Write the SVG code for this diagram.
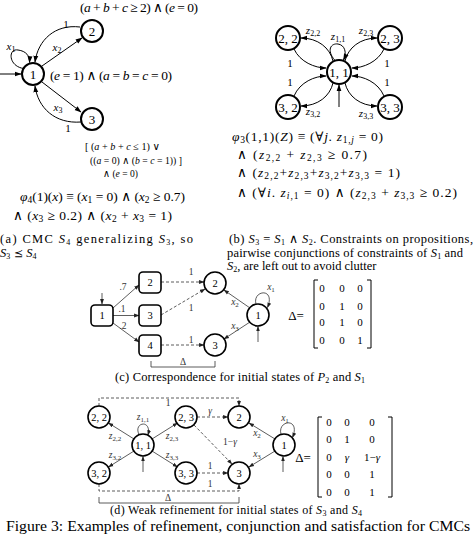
<svg xmlns="http://www.w3.org/2000/svg" width="474" height="534" viewBox="0 0 474 534">
<style>
text{font-family:"Liberation Serif","DejaVu Serif","Times New Roman",serif;fill:#000}
.n{fill:#fff;stroke:#000;stroke-width:2}
.ns{fill:#fff;stroke:#000;stroke-width:1.6}
.e{fill:none;stroke:#000;stroke-width:1}
.es{fill:none;stroke:#333;stroke-width:0.8}
.d{fill:none;stroke:#333;stroke-width:0.8;stroke-dasharray:3 2}
.t{font-size:13.5px}
.tb{font-size:10.5px}
.cap{font-size:12.5px}
.lab{font-size:11px;text-anchor:middle}
.labs{font-size:9.5px;text-anchor:middle;fill:#333}
.nl{font-size:13px;text-anchor:middle}
.nls{font-size:10.5px;text-anchor:middle}
.i{font-style:italic}
.sb{font-size:8px}
.sbm{font-size:9.5px}
.sbs{font-size:7px}
.mx{font-size:11px;text-anchor:middle}
</style>
<defs>
<marker id="a" viewBox="0 0 10 10" refX="9" refY="5" markerWidth="7" markerHeight="7" markerUnits="userSpaceOnUse" orient="auto"><path d="M0,1.5 L10,5 L0,8.5 z" fill="#000"/></marker>
<marker id="b" viewBox="0 0 10 10" refX="9" refY="5" markerWidth="5.5" markerHeight="5.5" markerUnits="userSpaceOnUse" orient="auto"><path d="M0,1.5 L10,5 L0,8.5 z" fill="#222"/></marker>
</defs>

<!-- connectors -->
<g id="connectors">
<!-- (a) -->
<path class="e" d="M0,74 H21" marker-end="url(#a)"/>
<path class="e" d="M23.5,68.5 C8,66 8,48 18,50 C26,51 30,56 29.5,62.5" marker-end="url(#a)"/>
<path class="e" d="M42,66 L82,38" marker-end="url(#a)"/>
<path class="e" d="M80,27 C55,24 38,40 35,62" marker-end="url(#a)"/>
<path class="e" d="M42,82 L81,112" marker-end="url(#a)"/>
<path class="e" d="M81,122 C55,124 38,108 35,86" marker-end="url(#a)"/>
<!-- (b) -->
<path class="e" d="M333,61 C330,48 318,38 301,38" marker-end="url(#a)"/>
<path class="e" d="M294,49 C300,62 315,68 326,68" marker-end="url(#a)"/>
<path class="e" d="M345,61 C348,48 360,38 377,38" marker-end="url(#a)"/>
<path class="e" d="M384,49 C378,62 363,68 352,68" marker-end="url(#a)"/>
<path class="e" d="M333,83 C330,96 318,106 301,106" marker-end="url(#a)"/>
<path class="e" d="M294,96 C300,82 315,76 326,76" marker-end="url(#a)"/>
<path class="e" d="M345,83 C348,96 360,106 377,106" marker-end="url(#a)"/>
<path class="e" d="M384,96 C378,82 363,76 352,76" marker-end="url(#a)"/>
<path class="e" d="M335,60.5 C326,50 331,43 338,44 C345,45 347,53 343.5,60" marker-end="url(#a)"/>
<path class="e" d="M339,107 V85" marker-end="url(#a)"/>
<!-- (c) -->
<path class="es" d="M102,293 V304" marker-end="url(#b)"/>
<path class="es" d="M113,308 L139,285" marker-end="url(#b)"/>
<path class="es" d="M113,315.5 L139,315.5" marker-end="url(#b)"/>
<path class="es" d="M113,323 L139,342" marker-end="url(#b)"/>
<path class="d" d="M161,282 H204" marker-end="url(#b)"/>
<path class="d" d="M161,315 L205,289" marker-end="url(#b)"/>
<path class="d" d="M161,345 H204" marker-end="url(#b)"/>
<path class="es" d="M250,308 L224,290" marker-end="url(#b)"/>
<path class="es" d="M250,322 L224,339" marker-end="url(#b)"/>
<path class="es" d="M256,304.2 C252,290 276,287 267.5,307.5" marker-end="url(#b)"/>
<path class="es" d="M258,342 V326.5" marker-end="url(#b)"/>
<path class="es" d="M151,361 V367 H215 V361"/>
<!-- (d) -->
<path class="es" d="M134,439 L108.5,423" marker-end="url(#b)"/>
<path class="es" d="M152,439 L177.5,423" marker-end="url(#b)"/>
<path class="es" d="M134,451 L108.5,467" marker-end="url(#b)"/>
<path class="es" d="M152,451 L177.5,467" marker-end="url(#b)"/>
<path class="es" d="M139,434.5 C133,422 152,419 148,435" marker-end="url(#b)"/>
<path class="es" d="M143,472 V456.5" marker-end="url(#b)"/>
<path class="d" d="M197,417 H228" marker-end="url(#b)"/>
<path class="d" d="M194,425 L232,464" marker-end="url(#b)"/>
<path class="d" d="M197,473 H228" marker-end="url(#b)"/>
<path class="d" d="M99,406 V398 H239 V406" marker-end="url(#b)"/>
<path class="d" d="M99,484 V491 H239 V484" marker-end="url(#b)"/>
<path class="es" d="M99,497 V503 H239 V497"/>
<path class="es" d="M275,439 L249,423" marker-end="url(#b)"/>
<path class="es" d="M275,451 L249,467" marker-end="url(#b)"/>
<path class="es" d="M281,434.2 C277,420 301,417 292.5,437.5" marker-end="url(#b)"/>
<path class="es" d="M283,472 V456.5" marker-end="url(#b)"/>
</g>

<!-- (a) nodes -->
<g id="a-n1"><circle class="n" cx="33" cy="74" r="11"/><text class="nl" x="33" y="78.5">1</text></g>
<g id="a-n2"><circle class="n" cx="92" cy="31" r="11"/><text class="nl" x="92" y="35.5">2</text></g>
<g id="a-n3"><circle class="n" cx="92" cy="119" r="11"/><text class="nl" x="92" y="123.5">3</text></g>
<g id="a-labels">
<text class="lab" x="11" y="50"><tspan class="i">x</tspan><tspan class="sb" dy="2">1</tspan></text>
<text class="lab" x="57" y="51"><tspan class="i">x</tspan><tspan class="sb" dy="2">2</tspan></text>
<text class="lab" x="66" y="28">1</text>
<text class="lab" x="58" y="111"><tspan class="i">x</tspan><tspan class="sb" dy="2">3</tspan></text>
<text class="lab" x="68" y="132">1</text>
<text class="t" x="80" y="12" textLength="118">(<tspan class="i">a</tspan> + <tspan class="i">b</tspan> + <tspan class="i">c</tspan> ≥ 2) ∧ (<tspan class="i">e</tspan> = 0)</text>
<text class="t" x="50" y="80" textLength="122">(<tspan class="i">e</tspan> = 1) ∧ (<tspan class="i">a</tspan> = <tspan class="i">b</tspan> = <tspan class="i">c</tspan> = 0)</text>
<text class="tb" x="85" y="150" textLength="75" lengthAdjust="spacingAndGlyphs">[ (<tspan class="i">a</tspan> + <tspan class="i">b</tspan> + <tspan class="i">c</tspan> ≤ 1) ∨</text>
<text class="tb" x="90" y="163.5" textLength="92" lengthAdjust="spacingAndGlyphs">((<tspan class="i">a</tspan> = 0) ∧ (<tspan class="i">b</tspan> = <tspan class="i">c</tspan> = 1)) ]</text>
<text class="tb" x="103" y="177" textLength="35" lengthAdjust="spacingAndGlyphs">∧ (<tspan class="i">e</tspan> = 0)</text>
<text class="t" x="20" y="201" textLength="165"><tspan class="i">φ</tspan><tspan class="sbm" dy="2">4</tspan><tspan dy="-2">(1)(</tspan><tspan class="i">x</tspan>) ≡ (<tspan class="i">x</tspan><tspan class="sbm" dy="2">1</tspan><tspan dy="-2"> = 0) ∧ (</tspan><tspan class="i">x</tspan><tspan class="sbm" dy="2">2</tspan><tspan dy="-2"> ≥ 0.7)</tspan></text>
<text class="t" x="13" y="220" textLength="159">∧ (<tspan class="i">x</tspan><tspan class="sbm" dy="2">3</tspan><tspan dy="-2"> ≥ 0.2) ∧ (</tspan><tspan class="i">x</tspan><tspan class="sbm" dy="2">2</tspan><tspan dy="-2"> + </tspan><tspan class="i">x</tspan><tspan class="sbm" dy="2">3</tspan><tspan dy="-2"> = 1)</tspan></text>
<text class="cap" x="0" y="243" textLength="193">(a) CMC <tspan class="i">S</tspan><tspan class="sb" dy="2">4</tspan><tspan dy="-2"> generalizing </tspan><tspan class="i">S</tspan><tspan class="sb" dy="2">3</tspan><tspan dy="-2">, so</tspan></text>
<text class="cap" x="0" y="257"><tspan class="i">S</tspan><tspan class="sb" dy="2">3</tspan><tspan dy="-2" font-family="DejaVu Serif" font-size="11"> ⪯ </tspan><tspan class="i">S</tspan><tspan class="sb" dy="2">4</tspan></text>
</g>

<!-- (b) nodes -->
<g id="b-n11"><circle class="n" cx="339" cy="72" r="12"/><text class="nl" x="339" y="76.5">1, 1</text></g>
<g id="b-n22"><circle class="n" cx="288" cy="38" r="12"/><text class="nl" x="288" y="42.5">2, 2</text></g>
<g id="b-n23"><circle class="n" cx="390" cy="38" r="12"/><text class="nl" x="390" y="42.5">2, 3</text></g>
<g id="b-n32"><circle class="n" cx="288" cy="107" r="12"/><text class="nl" x="288" y="111.5">3, 2</text></g>
<g id="b-n33"><circle class="n" cx="390" cy="107" r="12"/><text class="nl" x="390" y="111.5">3, 3</text></g>
<g id="b-labels">
<text class="lab" x="290" y="67">1</text>
<text class="lab" x="290" y="86">1</text>
<text class="lab" x="387" y="67">1</text>
<text class="lab" x="387" y="86">1</text>
<text class="lab" x="313" y="34"><tspan class="i">z</tspan><tspan class="sb" dy="2">2,2</tspan></text>
<text class="lab" x="366" y="34"><tspan class="i">z</tspan><tspan class="sb" dy="2">2,3</tspan></text>
<text class="lab" x="338" y="40"><tspan class="i">z</tspan><tspan class="sb" dy="2">1,1</tspan></text>
<text class="lab" x="313" y="115"><tspan class="i">z</tspan><tspan class="sb" dy="2">3,2</tspan></text>
<text class="lab" x="366" y="117"><tspan class="i">z</tspan><tspan class="sb" dy="2">3,3</tspan></text>
<text class="t" x="232" y="141" textLength="151"><tspan class="i">φ</tspan><tspan class="sbm" dy="2">3</tspan><tspan dy="-2">(1,1)(</tspan><tspan class="i">Z</tspan>) ≡ (∀<tspan class="i">j</tspan>. <tspan class="i">z</tspan><tspan class="sbm" dy="2">1,<tspan class="i">j</tspan></tspan><tspan dy="-2"> = 0)</tspan></text>
<text class="t" x="237" y="159" textLength="130">∧ (<tspan class="i">z</tspan><tspan class="sbm" dy="2">2,2</tspan><tspan dy="-2"> + </tspan><tspan class="i">z</tspan><tspan class="sbm" dy="2">2,3</tspan><tspan dy="-2"> ≥ 0.7)</tspan></text>
<text class="t" x="237" y="177" textLength="163">∧ (<tspan class="i">z</tspan><tspan class="sbm" dy="2">2,2</tspan><tspan dy="-2">+</tspan><tspan class="i">z</tspan><tspan class="sbm" dy="2">2,3</tspan><tspan dy="-2">+</tspan><tspan class="i">z</tspan><tspan class="sbm" dy="2">3,2</tspan><tspan dy="-2">+</tspan><tspan class="i">z</tspan><tspan class="sbm" dy="2">3,3</tspan><tspan dy="-2"> = 1)</tspan></text>
<text class="t" x="237" y="197" textLength="220">∧ (∀<tspan class="i">i</tspan>. <tspan class="i">z</tspan><tspan class="sbm" dy="2"><tspan class="i">i</tspan>,1</tspan><tspan dy="-2"> = 0)  ∧ (</tspan><tspan class="i">z</tspan><tspan class="sbm" dy="2">2,3</tspan><tspan dy="-2"> + </tspan><tspan class="i">z</tspan><tspan class="sbm" dy="2">3,3</tspan><tspan dy="-2"> ≥ 0.2)</tspan></text>
<text class="cap" x="229" y="243" textLength="244">(b) <tspan class="i">S</tspan><tspan class="sb" dy="2">3</tspan><tspan dy="-2"> = </tspan><tspan class="i">S</tspan><tspan class="sb" dy="2">1</tspan><tspan dy="-2"> ∧ </tspan><tspan class="i">S</tspan><tspan class="sb" dy="2">2</tspan><tspan dy="-2">. Constraints on propositions,</tspan></text>
<text class="cap" x="227" y="257" textLength="236">pairwise conjunctions of constraints of <tspan class="i">S</tspan><tspan class="sb" dy="2">1</tspan><tspan dy="-2"> and</tspan></text>
<text class="cap" x="227" y="270"><tspan class="i">S</tspan><tspan class="sb" dy="2">2</tspan><tspan dy="-2">, are left out to avoid clutter</tspan></text>
</g>

<!-- (c) nodes -->
<g id="c-p1"><rect class="ns" x="91" y="305" width="22" height="21" rx="4"/><text class="nls" x="102" y="319">1</text></g>
<g id="c-p2"><rect class="ns" x="139" y="272" width="22" height="21" rx="4"/><text class="nls" x="150" y="286">2</text></g>
<g id="c-p3"><rect class="ns" x="139" y="305" width="22" height="21" rx="4"/><text class="nls" x="150" y="319">3</text></g>
<g id="c-p4"><rect class="ns" x="139" y="335" width="22" height="21" rx="4"/><text class="nls" x="150" y="349">4</text></g>
<g id="c-s2"><circle class="ns" cx="215" cy="283" r="11"/><text class="nls" x="215" y="287">2</text></g>
<g id="c-s3"><circle class="ns" cx="215" cy="345" r="11"/><text class="nls" x="215" y="349">3</text></g>
<g id="c-s1"><circle class="ns" cx="258" cy="315" r="11"/><text class="nls" x="258" y="319">1</text></g>
<g id="c-labels">
<text class="labs" x="123" y="290">.7</text>
<text class="labs" x="122" y="312">.1</text>
<text class="labs" x="123" y="329">.2</text>
<text class="labs" x="191" y="275">1</text>
<text class="labs" x="191" y="311">1</text>
<text class="labs" x="191" y="343">1</text>
<text class="labs" x="235" y="305"><tspan class="i">x</tspan><tspan class="sbs" dy="2">2</tspan></text>
<text class="labs" x="235" y="329"><tspan class="i">x</tspan><tspan class="sbs" dy="2">3</tspan></text>
<text class="labs" x="271" y="290"><tspan class="i">x</tspan><tspan class="sbs" dy="2">1</tspan></text>
<text class="labs" x="183" y="365" font-size="11">Δ</text>
<text x="296" y="319.5" font-size="13" text-anchor="middle">Δ=</text>
<path class="e" d="M318,280 H314 V348 H318 M367,280 H371 V348 H367"/>
<g class="mx">
<text x="322" y="292">0</text><text x="342" y="292">0</text><text x="360" y="292">0</text>
<text x="322" y="310">0</text><text x="342" y="310">1</text><text x="360" y="310">0</text>
<text x="322" y="326">0</text><text x="342" y="326">1</text><text x="360" y="326">0</text>
<text x="322" y="344">0</text><text x="342" y="344">0</text><text x="360" y="344">1</text>
</g>
<text class="cap" x="115" y="381" textLength="250">(c) Correspondence for initial states of <tspan class="i">P</tspan><tspan class="sb" dy="2">2</tspan><tspan dy="-2"> and </tspan><tspan class="i">S</tspan><tspan class="sb" dy="2">1</tspan></text>
</g>

<!-- (d) nodes -->
<g id="d-n11"><circle class="ns" cx="143" cy="445" r="11"/><text class="nls" x="143" y="449">1, 1</text></g>
<g id="d-n22"><circle class="ns" cx="99" cy="417" r="11"/><text class="nls" x="99" y="421">2, 2</text></g>
<g id="d-n23"><circle class="ns" cx="186" cy="417" r="11"/><text class="nls" x="186" y="421">2, 3</text></g>
<g id="d-n32"><circle class="ns" cx="99" cy="473" r="11"/><text class="nls" x="99" y="477">3, 2</text></g>
<g id="d-n33"><circle class="ns" cx="186" cy="473" r="11"/><text class="nls" x="186" y="477">3, 3</text></g>
<g id="d-s2"><circle class="ns" cx="239" cy="417" r="11"/><text class="nls" x="239" y="421">2</text></g>
<g id="d-s3"><circle class="ns" cx="239" cy="473" r="11"/><text class="nls" x="239" y="477">3</text></g>
<g id="d-s1"><circle class="ns" cx="284" cy="445" r="11"/><text class="nls" x="284" y="449">1</text></g>
<g id="d-labels">
<text class="labs" x="115" y="439"><tspan class="i">z</tspan><tspan class="sbs" dy="2">2,2</tspan></text>
<text class="labs" x="115" y="458"><tspan class="i">z</tspan><tspan class="sbs" dy="2">3,2</tspan></text>
<text class="labs" x="172" y="439"><tspan class="i">z</tspan><tspan class="sbs" dy="2">2,3</tspan></text>
<text class="labs" x="172" y="458"><tspan class="i">z</tspan><tspan class="sbs" dy="2">3,3</tspan></text>
<text class="labs" x="143" y="420"><tspan class="i">z</tspan><tspan class="sbs" dy="2">1,1</tspan></text>
<text class="labs" x="168" y="406">1</text>
<text class="labs" x="210" y="414"><tspan class="i">γ</tspan></text>
<text class="labs" x="230" y="445">1−<tspan class="i">γ</tspan></text>
<text class="labs" x="210" y="469">1</text>
<text class="labs" x="210" y="487">1</text>
<text class="labs" x="168" y="501" font-size="11">Δ</text>
<text class="labs" x="257" y="436"><tspan class="i">x</tspan><tspan class="sbs" dy="2">2</tspan></text>
<text class="labs" x="257" y="457"><tspan class="i">x</tspan><tspan class="sbs" dy="2">3</tspan></text>
<text class="labs" x="285" y="421"><tspan class="i">x</tspan><tspan class="sbs" dy="2">1</tspan></text>
<text x="303" y="461.5" font-size="13" text-anchor="middle">Δ=</text>
<path class="e" d="M322,417 H318 V497 H322 M388,417 H392 V497 H388"/>
<g class="mx">
<text x="329" y="426">0</text><text x="347" y="426">0</text><text x="372" y="426">0</text>
<text x="329" y="443">0</text><text x="347" y="443">1</text><text x="372" y="443">0</text>
<text x="329" y="461">0</text><text x="347" y="461" font-style="italic">γ</text><text x="372" y="461">1−<tspan font-style="italic">γ</tspan></text>
<text x="329" y="478">0</text><text x="347" y="478">0</text><text x="372" y="478">1</text>
<text x="329" y="496">0</text><text x="347" y="496">0</text><text x="372" y="496">1</text>
</g>
<text x="110" y="513.5" font-size="12" textLength="252">(d) Weak refinement for initial states of <tspan class="i">S</tspan><tspan class="sb" dy="2">3</tspan><tspan dy="-2"> and </tspan><tspan class="i">S</tspan><tspan class="sb" dy="2">4</tspan></text>
</g>
<text x="6" y="530.5" font-size="15" textLength="464" lengthAdjust="spacingAndGlyphs">Figure 3: Examples of refinement, conjunction and satisfaction for CMCs</text>
</svg>
